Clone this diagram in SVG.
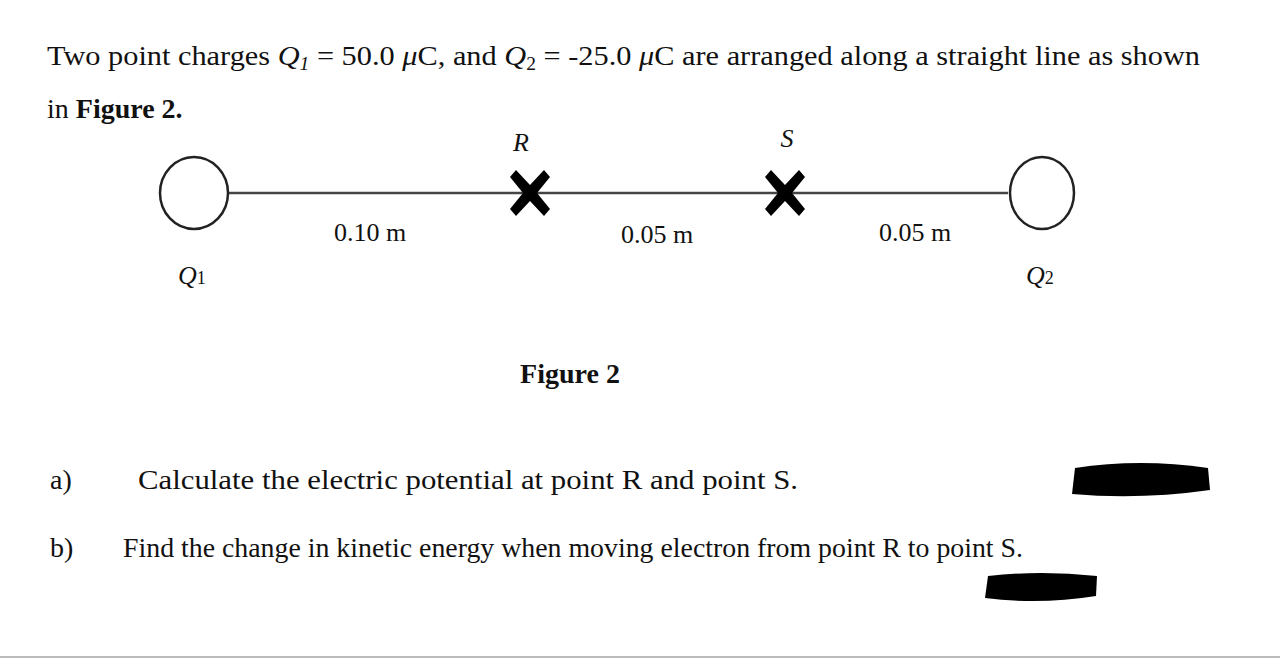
<svg xmlns="http://www.w3.org/2000/svg" width="1280" height="659" viewBox="0 0 1280 659">
<style>
text{font-family:"Liberation Serif","Times New Roman",serif;fill:#111}
.t{font-size:28px}
.l{font-size:26px}
.i{font-style:italic}
.b{font-weight:bold}
.c{fill:#fff;stroke:#222;stroke-width:2.5}
</style>
<defs>
<path id="x" d="M-20,-16 L-14,-23 L0,-8 L14,-23 L20,-16 L7,0 L20,16 L14,23 L0,8 L-14,23 L-20,16 L-7,0 Z" fill="#000"/>
</defs>
<rect width="1280" height="659" fill="#fff"/>
<text class="t" x="47" y="65" textLength="1153" lengthAdjust="spacingAndGlyphs">Two point charges <tspan class="i">Q<tspan font-size="18" dy="5">1</tspan></tspan><tspan dy="-5"> = 50.0 </tspan><tspan class="i">μ</tspan>C, and <tspan class="i">Q</tspan><tspan font-size="18" dy="5">2</tspan><tspan dy="-5"> = -25.0 </tspan><tspan class="i">μ</tspan>C  are arranged along a straight line as shown</text>
<text class="t" x="47" y="118">in <tspan class="b">Figure 2.</tspan></text>
<g id="connectors"><line x1="228" y1="193" x2="1008" y2="193" stroke="#444" stroke-width="2.5"/></g>
<g id="Q1"><ellipse class="c" cx="194" cy="193" rx="34" ry="36"/><text class="l i" x="178" y="284">Q<tspan font-size="18" font-style="normal">1</tspan></text></g>
<g id="Q2"><ellipse class="c" cx="1042" cy="193" rx="32" ry="36"/><text class="l i" x="1026" y="284">Q<tspan font-size="18" font-style="normal">2</tspan></text></g>
<g id="R"><use href="#x" x="530" y="193"/><text class="l i" x="521" y="151" text-anchor="middle">R</text></g>
<g id="S"><use href="#x" x="785" y="193"/><text class="l i" x="787" y="147" text-anchor="middle">S</text></g>
<text class="l" x="370" y="241" text-anchor="middle">0.10 m</text>
<text class="l" x="657" y="243" text-anchor="middle">0.05 m</text>
<text class="l" x="915" y="241" text-anchor="middle">0.05 m</text>
<text class="t b" x="570" y="383" text-anchor="middle">Figure 2</text>
<text class="t" x="50" y="489">a)</text>
<text class="t" x="138" y="489" textLength="660" lengthAdjust="spacingAndGlyphs">Calculate the electric potential at point R and point S.</text>
<text class="t" x="50" y="557">b)</text>
<text class="t" x="123" y="557" textLength="900" lengthAdjust="spacingAndGlyphs">Find the change in kinetic energy when moving electron from point R to point S.</text>
<path d="M1075,468 Q1140,458 1208,468 L1210,490 Q1140,500 1072,494 Z" fill="#000"/>
<path d="M988,576 Q1040,570 1097,576 L1096,596 Q1040,605 985,598 Z" fill="#000"/>
<line x1="0" y1="657" x2="1280" y2="657" stroke="#bbb" stroke-width="2"/>
</svg>
